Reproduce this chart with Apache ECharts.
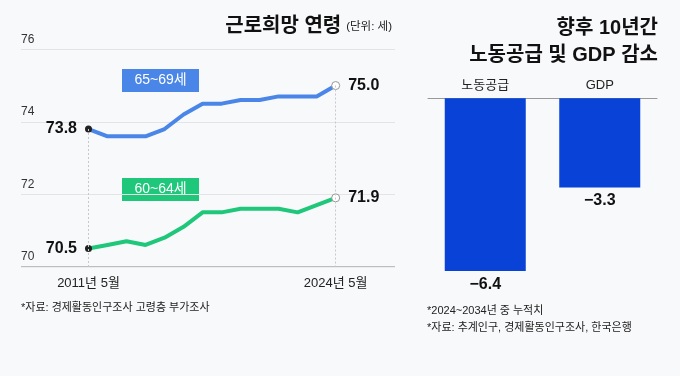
<!DOCTYPE html>
<html><head><meta charset="utf-8">
<script src="https://cdn.jsdelivr.net/npm/echarts@6/dist/echarts.min.js"></script>
<style>html,body{margin:0;padding:0;background:#f8f9fb}#c{width:680px;height:376px}</style>
</head><body><div id="c"></div>
<script>
const years = [2011,2012,2013,2014,2015,2016,2017,2018,2019,2020,2021,2022,2023,2024];
const age6569 = [73.8,73.6,73.6,73.6,73.8,74.2,74.5,74.5,74.6,74.6,74.7,74.7,74.7,75.0];
const age6064 = [70.5,70.6,70.7,70.6,70.8,71.1,71.5,71.5,71.6,71.6,71.6,71.5,71.7,71.9];
const yTicks = [70,72,74,76];
const xLabelYears = [2011,2024];
const barCats = ['노동공급','GDP'];
const barVals = [-6.4,-3.3];

const FONT = "'Liberation Sans','Noto Sans CJK KR',sans-serif";
const BLUE = '#4a86e8', GREEN = '#1ec77a', BAR = '#0842d6';

function lineData(vals){
  return vals.map((v,i)=>{
    const d = {value:[years[i], v]};
    if(i===0){
      d.symbol='circle'; d.symbolSize=7; d.itemStyle={color:'#222',borderColor:'#222',borderWidth:0};
      d.label={show:true,position:'left',distance:8};
    } else if(i===vals.length-1){
      d.symbol='circle'; d.symbolSize=8; d.itemStyle={color:'#fff',borderColor:'#999',borderWidth:1};
      d.label={show:true,position:'right',distance:8};
    }
    return d;
  });
}
const lbl = {fontFamily:FONT,fontWeight:'bold',fontSize:16,color:'#111',formatter:p=>p.value[1].toFixed(1)};
const titleStyle = {fontFamily:FONT,fontSize:20,fontWeight:'bold',color:'#111'};

const chart = echarts.init(document.getElementById('c'),null,{renderer:'canvas'});
chart.setOption({
  backgroundColor:'#f8f9fb',
  animation:false,
  textStyle:{fontFamily:FONT},
  title:[
    {text:'{a|근로희망 연령} {b|(단위: 세)}',right:283,top:11,textStyle:{rich:{
      a:titleStyle,
      b:{fontFamily:FONT,fontSize:11.5,fontWeight:'normal',color:'#222',padding:[2,0,0,0]}}}},
    {text:'향후 10년간',right:17,top:13,textStyle:titleStyle},
    {text:'노동공급 및 GDP 감소',right:17,top:40,textStyle:titleStyle},
    {text:'*자료: 경제활동인구조사 고령층 부가조사',left:16,top:297,textStyle:{fontFamily:FONT,fontSize:11,fontWeight:'normal',color:'#222'}},
    {text:'*2024~2034년 중 누적치\n*자료: 추계인구, 경제활동인구조사, 한국은행',left:422,top:297,
      textStyle:{fontFamily:FONT,fontSize:11,fontWeight:'normal',color:'#222',lineHeight:17}}
  ],
  grid:[
    {left:21,right:285,top:49.3,bottom:109.3},
    {left:428,width:229,top:98.3,bottom:61.7}
  ],
  xAxis:[
    {type:'value',gridIndex:0,min:2007.45,max:2027.12,splitLine:{show:false},
      axisLine:{show:false},axisTick:{show:false},
      axisLabel:{customValues:xLabelYears,margin:10,fontFamily:FONT,fontSize:13,color:'#222',
        formatter:v=>v+'년 5월'}},
    {type:'category',gridIndex:1,data:barCats,position:'top',
      axisLine:{show:true,lineStyle:{color:'#999',width:1}},axisTick:{show:false},
      axisLabel:{margin:6,fontFamily:FONT,fontSize:13,color:'#222'}}
  ],
  yAxis:[
    {type:'value',gridIndex:0,min:70,max:76,interval:2,
      axisLine:{show:false},axisTick:{show:false},
      splitLine:{show:true,lineStyle:{color:'#e4e4e6',width:1}},
      axisLabel:{inside:true,margin:0,verticalAlign:'bottom',padding:[0,0,4,0],
        fontFamily:FONT,fontSize:12,color:'#333',customValues:yTicks}},
    {type:'value',gridIndex:1,min:-8,max:0,show:false}
  ],
  graphic:[
    {type:'line',shape:{x1:21,y1:266.7,x2:395,y2:266.7},style:{stroke:'#b5b5b8',lineWidth:1},z:1},
    {type:'group',left:122,top:69,children:[
      {type:'rect',shape:{x:0,y:0,width:77,height:23},style:{fill:BLUE}},
      {type:'text',x:38.5,y:11.5,style:{text:'65~69세',fill:'#fff',font:"14px "+FONT,align:'center',verticalAlign:'middle'}}
    ]},
    {type:'group',left:122,top:178,children:[
      {type:'rect',shape:{x:0,y:0,width:77,height:23},style:{fill:GREEN}},
      {type:'text',x:38.5,y:11.5,style:{text:'60~64세',fill:'#fff',font:"14px "+FONT,align:'center',verticalAlign:'middle'}}
    ]}
  ],
  series:[
    {type:'line',xAxisIndex:0,yAxisIndex:0,data:lineData(age6569),symbol:'none',showSymbol:true,
      lineStyle:{color:BLUE,width:4},itemStyle:{color:BLUE},label:lbl,z:3,
      markLine:{silent:true,symbol:'none',label:{show:false},lineStyle:{color:'#c8c8cc',type:[2,2],width:1},
        data:[[{coord:[years[0],age6569[0]]},{coord:[years[0],70]}],
              [{coord:[years[13],age6569[13]]},{coord:[years[13],70]}]]}},
    {type:'line',xAxisIndex:0,yAxisIndex:0,data:lineData(age6064),symbol:'none',showSymbol:true,
      lineStyle:{color:GREEN,width:4},itemStyle:{color:GREEN},label:lbl,z:3},
    {type:'bar',xAxisIndex:1,yAxisIndex:1,data:barVals,barWidth:81,itemStyle:{color:BAR},
      label:{show:true,position:'bottom',distance:5,fontFamily:FONT,fontWeight:'bold',fontSize:16,color:'#111',
        formatter:p=>'\u2212'+Math.abs(p.value).toFixed(1)}}
  ]
});
</script></body></html>
